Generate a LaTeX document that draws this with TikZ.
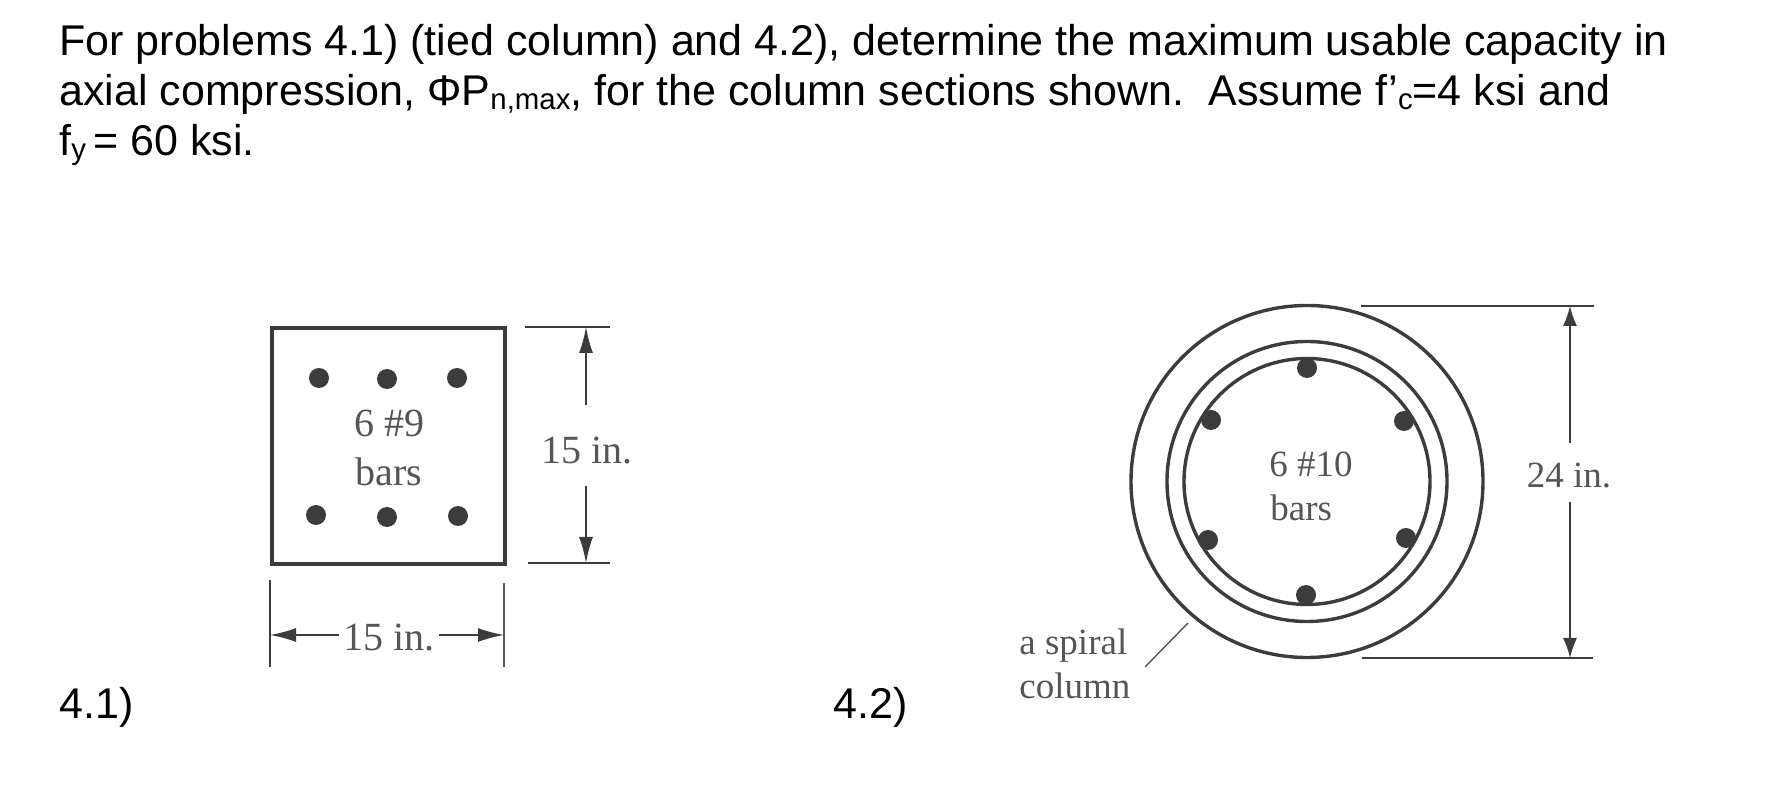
\documentclass[tikz,border=0pt]{standalone}
\usepackage{fontspec}
\setmainfont{Liberation Sans}
\newfontfamily\bookfont{Liberation Serif}
\usetikzlibrary{positioning,arrows.meta}
\definecolor{ink}{HTML}{3C3C3C}
\definecolor{print}{HTML}{555555}
\newcommand{\lowtext}[1]{\raisebox{-2pt}{\fontsize{14.7}{14.7}\selectfont #1}}
\tikzset{
  heading/.style={anchor=north west, inner sep=0pt, align=left, font=\fontsize{21.5}{25}\selectfont},
  booklabel/.style={text=print, inner sep=0pt, align=left, font=\bookfont\fontsize{18.5}{22}\selectfont},
  squarelabel/.style={booklabel, font=\bookfont\fontsize{20}{22}\selectfont},
  dimline/.style={ink, line width=0.8pt},
  dimarrow/.style={dimline, -{Latex[length=13pt,width=7pt]}},
  bar/.style={ink, fill=ink}
}
\begin{document}
\begin{tikzpicture}[x=0.5pt,y=-0.5pt]
  \useasboundingbox (0,0) rectangle (1774,812);
  \node[heading] (question) at (59,24) {For problems 4.1) (tied column) and 4.2), determine the maximum usable capacity in\\
    axial compression, ΦP\lowtext{n,max}, for the column sections shown.\ \ Assume f’\lowtext{c}=4 ksi and\\
    f\lowtext{y}\hspace{-2.2pt} = 60 ksi.};
  \node[heading, anchor=west] (first) at (59,707) {4.1)};
  \node[heading, anchor=west] (second) at (833,707) {4.2)};
  % square section
  \draw[ink, line width=2.2pt] (272,328) rectangle (505,564);
  \foreach \x/\y in {319/378,387/379,457/378,316/515,387/517,458/516}{\path[bar] (\x,\y) circle[radius=10];}
  \node[squarelabel] (squarebars) at (389,423) {6 \#9};
  \node[squarelabel] (squarename) at (389,472) {bars};
  \coordinate (rtop) at (586,327);
  \coordinate (rbottom) at (586,563);
  \coordinate (rtail) at (586,405);
  \coordinate (rtailb) at (586,486);
  \node[squarelabel] (height) at (587,451) {15 in.};
  \draw[dimline] (525,327) -- (610,327);
  \draw[dimline] (528,563) -- (610,563);
  \draw[dimarrow] (rtail) -- (rtop);
  \draw[dimarrow] (rtailb) -- (rbottom);
  \coordinate (bleft) at (270,635);
  \coordinate (bright) at (504,635);
  \node[squarelabel, inner xsep=2pt] (width) at (389,638) {15 in.};
  \draw[dimline] (270,580) -- (270,667);
  \draw[dimline, print, line width=1.2pt] (504,583) -- (504,667);
  \draw[dimarrow] (width.west |- bleft) -- (bleft);
  \draw[dimarrow] (width.east |- bright) -- (bright);
  % round section
  \foreach \r/\w in {176/1.7pt,140/1.7pt,123/1.7pt}{\draw[ink, line width=\w] (1307,481.5) circle[radius=\r];}
  \foreach \x/\y in {1307/368,1211/420,1404/421,1208/540,1406/538,1306/595}{\path[bar] (\x,\y) circle[radius=10];}
  \node[booklabel, anchor=west] (roundbars) at (1269,464) {6 \#10};
  \node[booklabel, anchor=west] (roundname) at (1270,508) {bars};
  \coordinate (ctop) at (1570,306);
  \coordinate (cbottom) at (1570,658);
  \coordinate (ctail) at (1570,443);
  \coordinate (ctailb) at (1570,502);
  \node[booklabel] (diameter) at (1569,476) {24 in.};
  \draw[dimline] (1361,306) -- (1594,306);
  \draw[dimline] (1362,658) -- (1593,658);
  \draw[dimarrow, -{Latex[length=10pt,width=7pt]}] (ctail) -- (ctop);
  \draw[dimarrow, -{Latex[length=10pt,width=7pt]}] (ctailb) -- (cbottom);
  \node[booklabel, anchor=west] (spiral) at (1019,646) {a spiral};
  \node[booklabel, anchor=west] (column) at (1019,686) {column};
  \coordinate (leaderend) at (1188,623);
  \coordinate (leaderstart) at (1145,667);
  \draw[dimline, print, line width=0.7pt] (leaderstart) -- (leaderend);
\end{tikzpicture}
\end{document}
